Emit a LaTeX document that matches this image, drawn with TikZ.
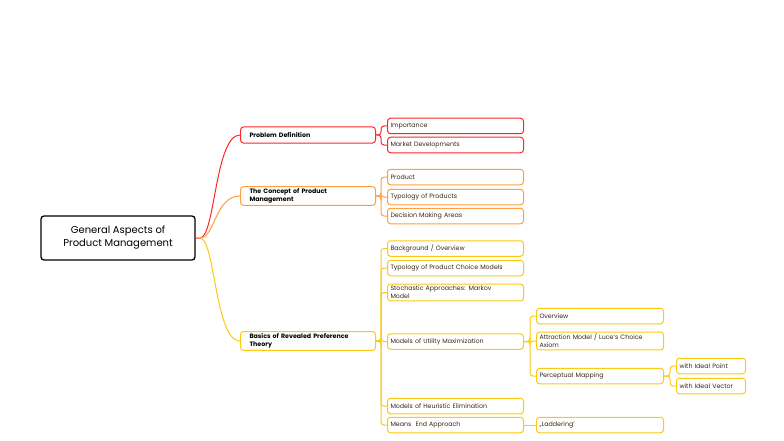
\documentclass[tikz,border=0pt]{standalone}
\usepackage{fontspec}
\setmainfont{Poppins}
\begin{document}
\begin{tikzpicture}[x=1pt,y=-1pt,
 base/.style={draw,rounded corners=3pt,line width=1pt,anchor=west,align=left,inner xsep=3pt,inner ysep=2pt,font=\fontsize{6.3}{8}\selectfont,text=black!70!brown,fill=white},
 lone/.style={base,text width=129pt,minimum height=16pt,font=\fontsize{6.3}{8}\selectfont\bfseries,text=black,inner xsep=9pt,text width=117pt},
 ltwo/.style={base,text width=130pt,minimum height=15.5pt},
 lthree/.style={base,text width=121pt,minimum height=15.5pt},
 lfour/.style={base,text width=63pt,minimum height=15.5pt},
 R/.style={draw=red!85!white},O/.style={draw=orange!75!white},Y/.style={draw=yellow!60!orange!95!white},
 cR/.style={red!85!white,line width=1pt},cO/.style={orange!75!white,line width=1pt},cY/.style={yellow!60!orange!95!white,line width=1pt},
 br/.style={rounded corners=3pt,line width=1pt}]
\useasboundingbox (0,0) rectangle (784,441);
\node[draw,line width=1.3pt,rounded corners=3pt,minimum width=154pt,minimum height=44pt,align=center,font=\fontsize{10}{13}\selectfont] (root) at (118,238) {General Aspects of\\Product Management};
\node[lone,R] (p1) at (240,135) {Problem Definition};
\node[lone,O] (p2) at (240,196) {The Concept of Product\\Management};
\node[lone,Y] (p3) at (240,341) {Basics of Revealed Preference\\Theory};
\node[ltwo,R] (a1) at (387,126) {Importance};
\node[ltwo,R] (a2) at (387,145) {Market Developments};
\node[ltwo,O] (b1) at (387,177) {Product};
\node[ltwo,O] (b2) at (387,197) {Typology of Products};
\node[ltwo,O] (b3) at (387,216) {Decision Making Areas};
\node[ltwo,Y] (c1) at (387,248.5) {Background / Overview};
\node[ltwo,Y] (c2) at (387,268) {Typology of Product Choice Models};
\node[ltwo,Y] (c3) at (387,292.5) {Stochastic Approaches: Markov\\Model};
\node[ltwo,Y] (c4) at (387,341.5) {Models of Utility Maximization};
\node[ltwo,Y] (c5) at (387,406) {Models of Heuristic Elimination};
\node[ltwo,Y] (c6) at (387,425) {Means\ \ End Approach};
\node[lthree,Y] (d1) at (536,316) {Overview};
\node[lthree,Y] (d2) at (536,341) {Attraction Model / Luce's Choice\\Axiom};
\node[lthree,Y] (d3) at (536,376) {Perceptual Mapping};
\node[lthree,Y] (d4) at (536,425) {„Laddering'};
\node[lfour,Y] (e1) at (676,366) {with Ideal Point};
\node[lfour,Y] (e2) at (676,386) {with Ideal Vector};
\coordinate (o) at (200,238);
\draw[cR] (root.east) -- (o) .. controls (215,238) and (215,135) .. (p1.west);
\draw[cO] (o) .. controls (215,238) and (215,196) .. (p2.west);
\draw[cY] (o) .. controls (215,238) and (215,341) .. (p3.west);
\foreach \c in {a1,a2}{\draw[cR,br] (p1.east) -- (381,135) -- (381,0|-\c.west) -- (\c.west);}
\foreach \c in {b1,b2,b3}{\draw[cO,br] (p2.east) -- (381,196) -- (381,0|-\c.west) -- (\c.west);}
\foreach \c in {c1,c2,c3,c4,c5,c6}{\draw[cY,br] (p3.east) -- (381,341) -- (381,0|-\c.west) -- (\c.west);}
\foreach \c in {d1,d2,d3}{\draw[cY,br] (c4.east) -- (530,341.5) -- (530,0|-\c.west) -- (\c.west);}
\draw[cY] (c6.east) -- (d4.west);
\foreach \c in {e1,e2}{\draw[cY,br] (d3.east) -- (670,376) -- (670,0|-\c.west) -- (\c.west);}
\end{tikzpicture}
\end{document}
